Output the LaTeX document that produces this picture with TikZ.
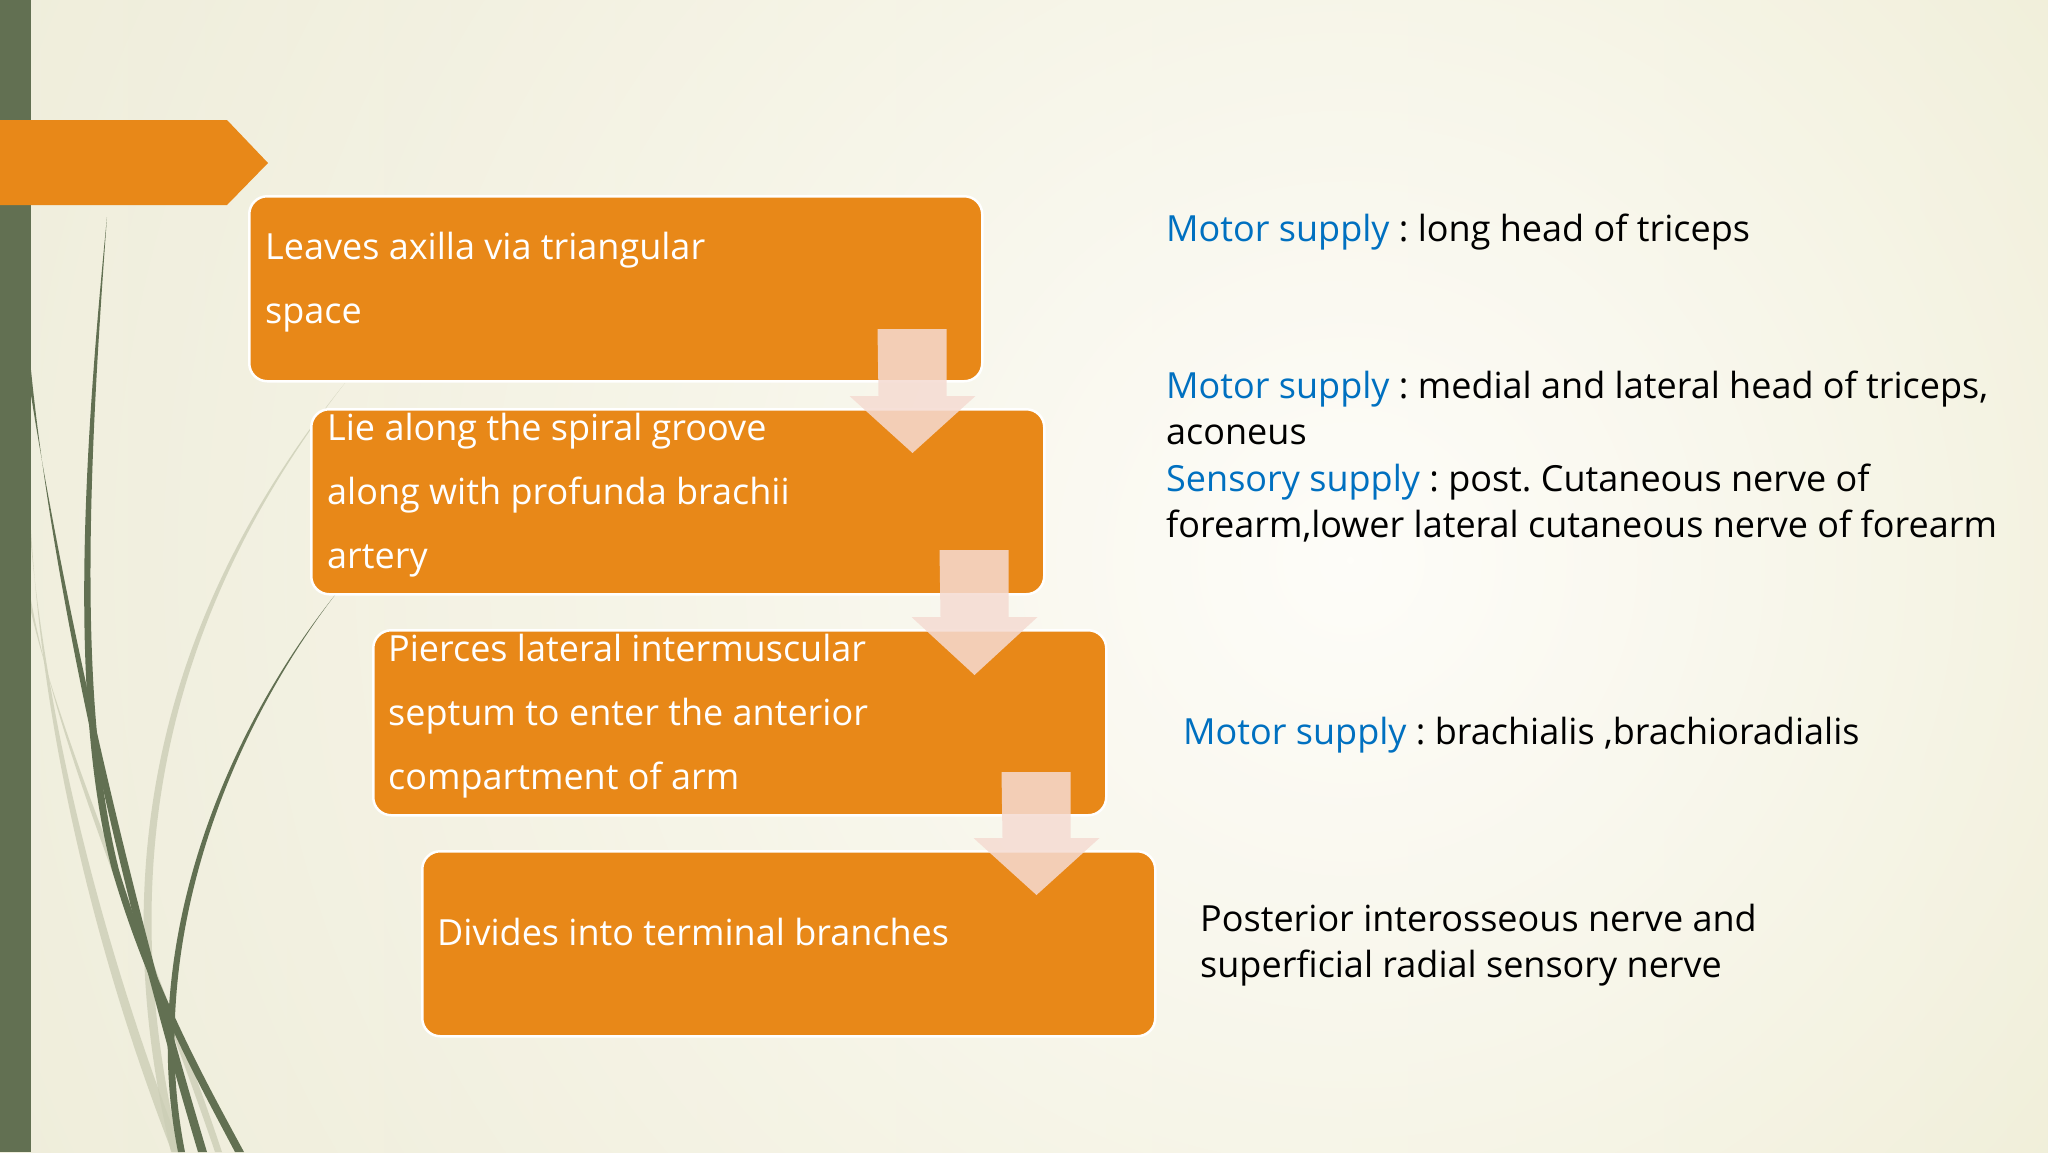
\documentclass[tikz,border=0pt]{standalone}
\usepackage{fontspec}
\setmainfont{Open Sans}
\usetikzlibrary{fadings,calc}
\definecolor{bgL}{RGB}{236,234,213}
\definecolor{bgR}{RGB}{228,226,188}
\definecolor{glow}{RGB}{254,253,249}
\definecolor{barg}{RGB}{98,112,82}
\definecolor{lightg}{RGB}{204,206,182}
\definecolor{org}{RGB}{232,136,24}
\definecolor{pinkarr}{RGB}{245,219,210}
\definecolor{blu}{RGB}{0,112,192}
\tikzfading[name=glowfade, inner color=transparent!0, outer color=transparent!100]
\tikzset{
  stepbox/.style={draw=white, line width=2.5pt, fill=org, rounded corners=18pt, minimum width=733pt, minimum height=185pt, anchor=north west, inner sep=0pt},
  boxtxt/.style={anchor=base west, inner sep=0pt, text=white, font=\fontsize{36}{42}\selectfont},
  sidetxt/.style={anchor=base west, inner sep=0pt, text=black, font=\fontsize{36}{42}\selectfont},
  flowarrow/.style={fill=pinkarr, fill opacity=0.85},
  darkstrand/.style={fill=barg},
  lightstrand/.style={fill=lightg, fill opacity=0.8}
}
\frenchspacing
\begin{document}
\begin{tikzpicture}[x=1pt,y=-1pt]
\useasboundingbox (0,0) rectangle (2048,1152);
% background
\shade[left color=bgL, right color=bgR] (0,0) rectangle (2048,1152);
\begin{scope}
\clip (0,0) rectangle (2048,1152);
\fill[glow, path fading=glowfade] (1350-1800,560-1800) rectangle (1350+1800,560+1800);
\end{scope}
% light strands
\fill[lightstrand] (345,383) .. controls (170,600) and (100,850) .. (171,1152) -- (180,1152) .. controls (108,850) and (176,600) .. (345,383) -- cycle;
\fill[lightstrand] (31,530) .. controls (45,760) and (105,980) .. (172,1152) -- (182,1152) .. controls (115,980) and (52,760) .. (31,545) -- cycle;
\fill[lightstrand] (31,600) .. controls (60,760) and (150,960) .. (215,1152) -- (222,1152) .. controls (158,960) and (66,760) .. (31,612) -- cycle;
% dark strands
\fill[darkstrand] (107,217) .. controls (84,450) and (68,700) .. (112,870) .. controls (147,990) and (197,1080) .. (235,1152) -- (244,1152) .. controls (205,1080) and (155,990) .. (119,870) .. controls (76,700) and (90,450) .. (107,217) -- cycle;
\fill[darkstrand] (31,370) .. controls (50,560) and (108,850) .. (198,1152) -- (207,1152) .. controls (116,850) and (57,560) .. (31,395) -- cycle;
\fill[darkstrand] (335,595) .. controls (220,740) and (138,950) .. (178,1152) -- (185,1152) .. controls (145,950) and (224,740) .. (335,595) -- cycle;
% side bar
\fill[barg] (0,0) rectangle (31,1152);
% banner
\fill[org] (0,120) -- (227,120) -- (268,163) -- (227,205) -- (0,205) -- cycle;
% boxes
\node[stepbox] (b1) at (248,195) {};
\node[stepbox] (b2) at (310,408) {};
\node[stepbox] (b3) at (372,629) {};
\node[stepbox] (b4) at (421,850) {};
% arrows between boxes
\fill[flowarrow] ($(b1.north east)+(-106,134)$) -- ++(69,0) -- ++(0,67) -- ++(29,0) -- ($(b1.north east)+(-71,258)$) -- ($(b1.north east)+(-134,201)$) -- ++(29,0) -- cycle;
\fill[flowarrow] ($(b2.north east)+(-106,142)$) -- ++(69,0) -- ++(0,67) -- ++(29,0) -- ($(b2.north east)+(-71,267)$) -- ($(b2.north east)+(-134,209)$) -- ++(29,0) -- cycle;
\fill[flowarrow] ($(b3.north east)+(-106,143)$) -- ++(69,0) -- ++(0,66) -- ++(29,0) -- ($(b3.north east)+(-71,266)$) -- ($(b3.north east)+(-134,209)$) -- ++(29,0) -- cycle;
% box texts
\node[boxtxt] (t1a) at (265,259) {Leaves axilla via triangular};
\node[boxtxt] (t1b) at (265,323) {space};
\node[boxtxt] (t2a) at (327,440) {Lie along the spiral groove};
\node[boxtxt] (t2b) at (327,504) {along with profunda brachii};
\node[boxtxt] (t2c) at (327,568) {artery};
\node[boxtxt] (t3a) at (388,661) {Pierces lateral intermuscular};
\node[boxtxt] (t3b) at (388,725) {septum to enter the anterior};
\node[boxtxt] (t3c) at (388,789) {compartment of arm};
\node[boxtxt] (t4a) at (437,945) {Divides into terminal branches};
% side texts
\node[sidetxt] (s1) at (1166,241) {\textcolor{blu}{Motor supply} : long head of triceps};
\node[sidetxt] (s2a) at (1166,398) {\textcolor{blu}{Motor supply} : medial and lateral head of triceps,};
\node[sidetxt] (s2b) at (1166,444) {aconeus};
\node[sidetxt] (s2c) at (1166,491) {\textcolor{blu}{Sensory supply} : post. Cutaneous nerve of};
\node[sidetxt] (s2d) at (1166,537) {forearm,lower lateral cutaneous nerve of forearm};
\node[sidetxt] (s3) at (1183,744) {\textcolor{blu}{Motor supply} : brachialis ,brachioradialis};
\node[sidetxt] (s4a) at (1200,931) {Posterior interosseous nerve and};
\node[sidetxt] (s4b) at (1200,977) {superficial radial sensory nerve};
\end{tikzpicture}
\end{document}
